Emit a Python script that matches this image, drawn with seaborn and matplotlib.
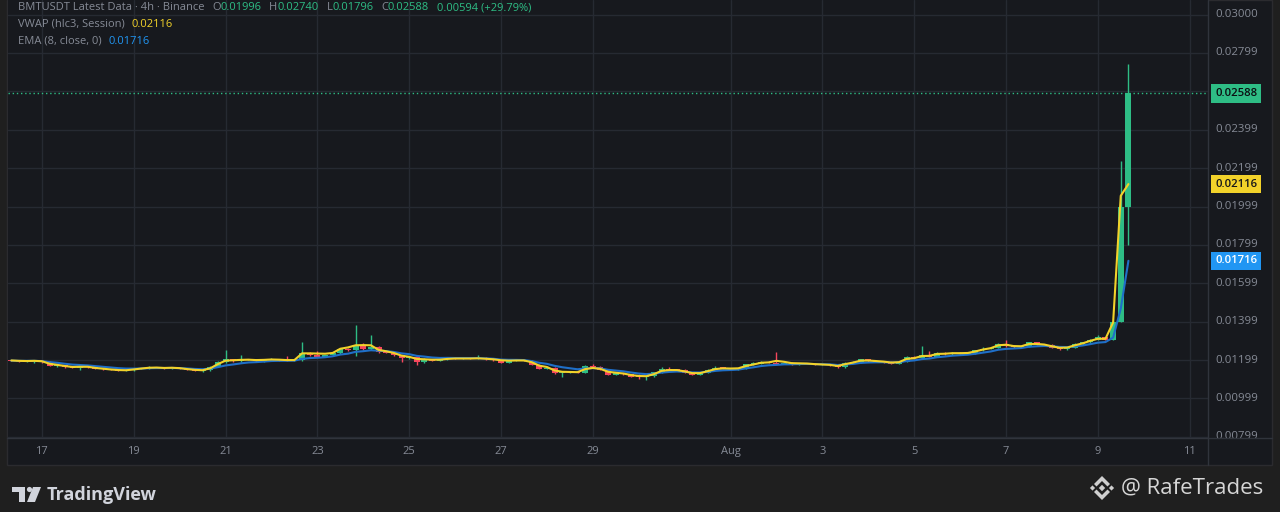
import numpy as np
import pandas as pd
import matplotlib
matplotlib.use("Agg")
import matplotlib.pyplot as plt
from matplotlib.patches import Rectangle, Polygon, Circle
import seaborn as sns

# ---------------- data ----------------
symbol_title = "BMTUSDT Latest Data · 4h · Binance"
ohlc_legend = [("O", "0.01996"), ("H", "0.02740"), ("L", "0.01796"), ("C", "0.02588")]
change_text = "0.00594 (+29.79%)"
vwap_title = "VWAP (hlc3, Session)"
ema_title = "EMA (8, close, 0)"
last_price = 0.02588
vwap_last = 0.02116
ema_last = 0.01716
ema_span = 8

start_time = "2025-07-16 08:00"
first_open = 0.01198
closes = [
    0.01196, 0.01191, 0.01194, 0.01196, 0.01189, 0.01170, 0.01173, 0.01162, 0.01160, 0.01165,
    0.01164, 0.01154, 0.01152, 0.01149, 0.01144, 0.01147, 0.01154, 0.01157, 0.01162, 0.01160,
    0.01157, 0.01160, 0.01154, 0.01149, 0.01144, 0.01147, 0.01165, 0.01189, 0.01202, 0.01194,
    0.01202, 0.01203, 0.01194, 0.01202, 0.01204, 0.01199, 0.01196, 0.01199, 0.01236, 0.01225,
    0.01217, 0.01223, 0.01236, 0.01259, 0.01249, 0.01275, 0.01257, 0.01267, 0.01241, 0.01238,
    0.01225, 0.01209, 0.01215, 0.01189, 0.01204, 0.01196, 0.01202, 0.01212, 0.01207, 0.01209,
    0.01207, 0.01212, 0.01202, 0.01199, 0.01186, 0.01196, 0.01199, 0.01196, 0.01175, 0.01154,
    0.01160, 0.01133, 0.01136, 0.01137, 0.01133, 0.01170, 0.01165, 0.01149, 0.01123, 0.01131,
    0.01126, 0.01113, 0.01110, 0.01115, 0.01136, 0.01154, 0.01149, 0.01147, 0.01133, 0.01123,
    0.01133, 0.01149, 0.01160, 0.01157, 0.01152, 0.01157, 0.01178, 0.01181, 0.01191, 0.01186,
    0.01181, 0.01186, 0.01178, 0.01183, 0.01181, 0.01175, 0.01176, 0.01173, 0.01162, 0.01186,
    0.01189, 0.01202, 0.01194, 0.01191, 0.01189, 0.01181, 0.01191, 0.01217, 0.01209, 0.01228,
    0.01217, 0.01238, 0.01230, 0.01238, 0.01233, 0.01236, 0.01249, 0.01259, 0.01264, 0.01285,
    0.01272, 0.01267, 0.01270, 0.01291, 0.01280, 0.01278, 0.01264, 0.01257, 0.01264, 0.01283,
    0.01291, 0.01306, 0.01317, 0.01304, 0.01398, 0.01996, 0.02588,
]
highs = [
    0.01201, 0.01199, 0.01197, 0.01199, 0.01199, 0.01192, 0.01176, 0.01175, 0.01165, 0.01168,
    0.01168, 0.01167, 0.01157, 0.01155, 0.01152, 0.01150, 0.01158, 0.01160, 0.01166, 0.01165,
    0.01163, 0.01163, 0.01163, 0.01157, 0.01152, 0.01150, 0.01168, 0.01192, 0.01251, 0.01206,
    0.01225, 0.01207, 0.01206, 0.01206, 0.01208, 0.01207, 0.01222, 0.01203, 0.01293, 0.01239,
    0.01246, 0.01227, 0.01240, 0.01263, 0.01262, 0.01382, 0.01286, 0.01330, 0.01270, 0.01244,
    0.01241, 0.01228, 0.01218, 0.01218, 0.01208, 0.01207, 0.01205, 0.01215, 0.01215, 0.01212,
    0.01212, 0.01225, 0.01215, 0.01205, 0.01202, 0.01199, 0.01202, 0.01202, 0.01199, 0.01178,
    0.01163, 0.01163, 0.01140, 0.01141, 0.01140, 0.01173, 0.01176, 0.01168, 0.01152, 0.01134,
    0.01134, 0.01129, 0.01126, 0.01118, 0.01139, 0.01162, 0.01165, 0.01152, 0.01150, 0.01136,
    0.01136, 0.01152, 0.01170, 0.01163, 0.01160, 0.01160, 0.01181, 0.01191, 0.01194, 0.01194,
    0.01241, 0.01189, 0.01189, 0.01186, 0.01186, 0.01184, 0.01179, 0.01179, 0.01176, 0.01189,
    0.01192, 0.01205, 0.01205, 0.01197, 0.01194, 0.01192, 0.01194, 0.01220, 0.01220, 0.01272,
    0.01246, 0.01241, 0.01241, 0.01241, 0.01241, 0.01239, 0.01252, 0.01265, 0.01267, 0.01290,
    0.01304, 0.01275, 0.01273, 0.01294, 0.01294, 0.01283, 0.01281, 0.01267, 0.01267, 0.01286,
    0.01294, 0.01309, 0.01330, 0.01320, 0.01402, 0.02237, 0.02740,
]
lows = [
    0.01193, 0.01188, 0.01189, 0.01183, 0.01186, 0.01167, 0.01165, 0.01159, 0.01156, 0.01147,
    0.01160, 0.01150, 0.01148, 0.01145, 0.01140, 0.01141, 0.01144, 0.01151, 0.01154, 0.01157,
    0.01153, 0.01154, 0.01151, 0.01146, 0.01140, 0.01139, 0.01144, 0.01162, 0.01186, 0.01191,
    0.01191, 0.01198, 0.01190, 0.01191, 0.01199, 0.01196, 0.01193, 0.01193, 0.01196, 0.01222,
    0.01214, 0.01214, 0.01220, 0.01233, 0.01246, 0.01220, 0.01254, 0.01254, 0.01238, 0.01234,
    0.01222, 0.01190, 0.01206, 0.01173, 0.01186, 0.01193, 0.01193, 0.01199, 0.01204, 0.01204,
    0.01204, 0.01204, 0.01199, 0.01196, 0.01183, 0.01183, 0.01193, 0.01193, 0.01172, 0.01151,
    0.01151, 0.01128, 0.01110, 0.01133, 0.01130, 0.01130, 0.01162, 0.01146, 0.01120, 0.01120,
    0.01123, 0.01110, 0.01102, 0.01094, 0.01112, 0.01133, 0.01146, 0.01144, 0.01130, 0.01120,
    0.01120, 0.01130, 0.01146, 0.01154, 0.01149, 0.01149, 0.01154, 0.01175, 0.01178, 0.01183,
    0.01178, 0.01178, 0.01175, 0.01175, 0.01178, 0.01172, 0.01172, 0.01170, 0.01159, 0.01159,
    0.01183, 0.01186, 0.01191, 0.01188, 0.01186, 0.01178, 0.01178, 0.01188, 0.01206, 0.01206,
    0.01214, 0.01214, 0.01227, 0.01227, 0.01230, 0.01230, 0.01233, 0.01246, 0.01256, 0.01261,
    0.01269, 0.01264, 0.01264, 0.01267, 0.01277, 0.01275, 0.01261, 0.01254, 0.01254, 0.01261,
    0.01280, 0.01288, 0.01303, 0.01301, 0.01301, 0.01395, 0.01796,
]
vwap = [
    0.01197, 0.01195, 0.01194, 0.01195, 0.01193, 0.01180, 0.01174, 0.01168, 0.01163, 0.01164,
    0.01164, 0.01158, 0.01154, 0.01150, 0.01147, 0.01146, 0.01150, 0.01155, 0.01159, 0.01160,
    0.01158, 0.01159, 0.01157, 0.01152, 0.01148, 0.01146, 0.01156, 0.01178, 0.01196, 0.01198,
    0.01200, 0.01201, 0.01199, 0.01200, 0.01202, 0.01201, 0.01199, 0.01199, 0.01234, 0.01234,
    0.01233, 0.01232, 0.01236, 0.01258, 0.01265, 0.01276, 0.01277, 0.01276, 0.01252, 0.01245,
    0.01236, 0.01222, 0.01216, 0.01205, 0.01203, 0.01201, 0.01201, 0.01205, 0.01207, 0.01207,
    0.01207, 0.01208, 0.01206, 0.01203, 0.01198, 0.01196, 0.01197, 0.01197, 0.01188, 0.01170,
    0.01163, 0.01145, 0.01138, 0.01137, 0.01136, 0.01152, 0.01158, 0.01153, 0.01138, 0.01133,
    0.01129, 0.01121, 0.01116, 0.01115, 0.01126, 0.01143, 0.01147, 0.01147, 0.01140, 0.01131,
    0.01131, 0.01141, 0.01152, 0.01156, 0.01155, 0.01156, 0.01168, 0.01176, 0.01185, 0.01187,
    0.01195, 0.01190, 0.01183, 0.01182, 0.01181, 0.01178, 0.01176, 0.01174, 0.01168, 0.01178,
    0.01186, 0.01196, 0.01197, 0.01194, 0.01191, 0.01186, 0.01188, 0.01205, 0.01209, 0.01220,
    0.01221, 0.01231, 0.01232, 0.01235, 0.01235, 0.01236, 0.01244, 0.01254, 0.01261, 0.01276,
    0.01279, 0.01272, 0.01271, 0.01283, 0.01283, 0.01280, 0.01271, 0.01263, 0.01264, 0.01276,
    0.01286, 0.01299, 0.01310, 0.01310, 0.01395, 0.02055, 0.02116,
]

y_ticks = [0.00799, 0.00999, 0.01199, 0.01399, 0.01599, 0.01799, 0.01999,
           0.02199, 0.02399, 0.02599, 0.02799, 0.02999]
y_tick_labels = ["0.00799", "0.00999", "0.01199", "0.01399", "0.01599", "0.01799", "0.01999",
                 "0.02199", "0.02399", "0.02599", "0.02799", "0.03000"]
x_tick_dates = ["2025-07-17", "2025-07-19", "2025-07-21", "2025-07-23", "2025-07-25",
                "2025-07-27", "2025-07-29", "2025-08-01", "2025-08-03", "2025-08-05",
                "2025-08-07", "2025-08-09", "2025-08-11"]
x_tick_labels = ["17", "19", "21", "23", "25", "27", "29", "Aug", "3", "5", "7", "9", "11"]
brand_left = "TradingView"
brand_right = "@ RafeTrades"

# ---------------- style ----------------
W, H = 1280, 512
BG_OUT = "#1f1f1f"
BG = "#17191e"
GRID = "#262a32"
SEP = "#30343c"
GREEN = "#2ebd85"
RED = "#f6465d"
YELLOW = "#f2d22a"
BLUE_LINE = "#1f6fc8"
BLUE = "#2196f3"
GRAY = "#868b96"

sns.set_theme(style="dark", rc={"axes.facecolor": BG, "figure.facecolor": BG_OUT,
                                "grid.color": GRID})
plt.rcParams["font.family"] = ["Open Sans", "DejaVu Sans"]

fig = plt.figure(figsize=(12.8, 5.12), dpi=100)
fig.patch.set_facecolor(BG_OUT)


def frac(x0, y0, x1, y1):
    return [x0 / W, 1 - y1 / H, (x1 - x0) / W, (y1 - y0) / H]


fig.add_artist(Rectangle((7 / W, 1 - 465 / H), (1272 - 7) / W, 465 / H,
                         transform=fig.transFigure, facecolor=BG,
                         edgecolor="#2b2b2f", lw=1, zorder=-5))

# ---------------- main chart ----------------
df = pd.DataFrame({
    "time": pd.date_range(start_time, periods=len(closes), freq="4h"),
    "open": [first_open] + closes[:-1],
    "high": highs,
    "low": lows,
    "close": closes,
    "vwap": vwap,
})
df["ema"] = df["close"].ewm(span=ema_span, adjust=False).mean()
up = df["close"] >= df["open"]
colors = np.where(up, GREEN, RED)

ax = fig.add_axes(frac(8, 0, 1208, 438))
ax.set_facecolor(BG)
ax.vlines(df["time"], df["low"], df["high"], colors=colors, lw=1, zorder=2)
body = (df["close"] - df["open"]).abs().clip(lower=0.00004)
ax.bar(df["time"], body, bottom=np.minimum(df["open"], df["close"]),
       width=0.13, color=colors, linewidth=0, zorder=3)

sns.lineplot(data=df, x="time", y="ema", color=BLUE_LINE, lw=1.5, ax=ax, zorder=4)
sns.lineplot(data=df, x="time", y="vwap", color=YELLOW, lw=1.5, ax=ax, zorder=5)

ax.axhline(last_price, color=GREEN, lw=1, ls=(0, (1, 2)), zorder=1.5)

YLIM = (0.00793, 0.03075)
ax.set_ylim(*YLIM)
ax.set_xlim(pd.Timestamp("2025-07-16 06:17"), pd.Timestamp("2025-08-11 09:36"))
ax.set_yticks(y_ticks)
ax.set_xticks(pd.to_datetime(x_tick_dates))
ax.set_xticklabels(x_tick_labels)
ax.tick_params(axis="y", length=0, labelleft=False, labelright=False)
ax.tick_params(axis="x", length=0, pad=5.5, colors=GRAY, labelsize=8)
ax.grid(True, color=GRID, lw=1)
ax.set_axisbelow(True)
for s in ax.spines.values():
    s.set_visible(False)
ax.set_xlabel("")
ax.set_ylabel("")

# ---------------- price scale ----------------
axp = fig.add_axes(frac(1208, 0, 1272, 438))
axp.set_xlim(0, 64)
axp.set_ylim(*YLIM)
axp.axis("off")
for v, lab in zip(y_ticks, y_tick_labels):
    axp.text(7, v, lab, ha="left", va="center", color=GRAY, fontsize=8.2, clip_on=True)
for val, fc, tc in [(last_price, GREEN, "#0b0e11"), (vwap_last, YELLOW, "#14161a"),
                    (ema_last, BLUE, "#ffffff")]:
    axp.text(7, val, f"{val:.5f}", ha="left", va="center", color=tc, fontsize=8.2,
             fontweight="semibold", zorder=6,
             bbox=dict(boxstyle="square,pad=0.32", fc=fc, ec="none"))

# ---------------- overlay ----------------
axo = fig.add_axes([0, 0, 1, 1])
axo.set_zorder(10)
axo.set_xlim(0, W)
axo.set_ylim(H, 0)
axo.axis("off")
axo.plot([7, 1272], [438, 438], color=SEP, lw=1)
axo.plot([1208, 1208], [0, 465], color=SEP, lw=1)

FS = 8.0


def chain(x, y, pieces):
    t = axo.text(x, y, pieces[0][0], color=pieces[0][1], fontsize=FS, ha="left", va="center")
    for txt, col, gap in pieces[1:]:
        t = axo.annotate(txt, xy=(1, 0.5), xycoords=t, xytext=(gap, 0),
                         textcoords="offset points", color=col, fontsize=FS,
                         ha="left", va="center")


line1 = [(symbol_title, GRAY)]
for letter, value in ohlc_legend:
    line1.append((letter, GRAY, 5.5))
    line1.append((value, GREEN, 0))
line1.append((change_text, GREEN, 5.5))
chain(18, 8, line1)
chain(18, 24.5, [(vwap_title, GRAY), (f"{vwap_last:.5f}", YELLOW, 5)])
chain(18, 41, [(ema_title, GRAY), (f"{ema_last:.5f}", BLUE, 5)])

# TradingView logo + text
LOGO = "#d1d4dc"
axo.add_patch(Polygon([(12, 487), (25, 487), (25, 502), (19, 502), (19, 492), (12, 492)],
                      closed=True, fc=LOGO, ec="none"))
axo.add_patch(Circle((29.5, 489.5), 2.6, fc=LOGO, ec="none"))
axo.add_patch(Polygon([(33, 487), (41, 487), (35, 502), (27, 502)], closed=True, fc=LOGO, ec="none"))
axo.text(47, 494.5, brand_left, color=LOGO, fontsize=13, fontweight="bold",
         ha="left", va="center")

# Binance logo + handle
BL = "#cfcfcf"
cx, cy = 1102, 488
axo.add_patch(Polygon([(cx, cy - 3.2), (cx + 3.2, cy), (cx, cy + 3.2), (cx - 3.2, cy)], fc=BL, ec="none"))
for dx in (-9.5, 9.5):
    axo.add_patch(Polygon([(cx + dx, cy - 2.6), (cx + dx + 2.6, cy), (cx + dx, cy + 2.6),
                           (cx + dx - 2.6, cy)], fc=BL, ec="none"))
axo.add_patch(Polygon([(cx, cy - 12), (cx + 8, cy - 4), (cx + 5.5, cy - 1.5), (cx, cy - 7),
                       (cx - 5.5, cy - 1.5), (cx - 8, cy - 4)], fc=BL, ec="none"))
axo.add_patch(Polygon([(cx, cy + 12), (cx + 8, cy + 4), (cx + 5.5, cy + 1.5), (cx, cy + 7),
                       (cx - 5.5, cy + 1.5), (cx - 8, cy + 4)], fc=BL, ec="none"))
axo.text(1121, 488, brand_right, color="#d6d6d6", fontsize=16, ha="left", va="center")

fig.savefig("out.png", dpi=100, facecolor=fig.get_facecolor())
